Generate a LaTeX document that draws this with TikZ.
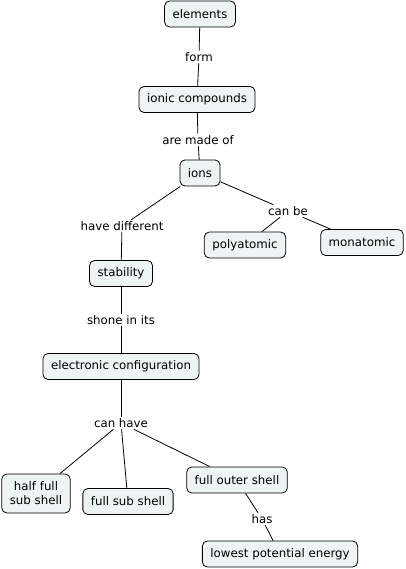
\documentclass[tikz,border=0pt]{standalone}
\usepackage{fontspec}
\setmainfont{DejaVu Sans}
\definecolor{conceptfill}{HTML}{EEF3F4}
\begin{document}
\begin{tikzpicture}[x=1bp,y=-1bp]
		\tikzstyle{every node}+=[font=\fontsize{11.8bp}{14bp}\selectfont]
		\tikzstyle{concept}=[draw=black, fill=conceptfill, rounded corners=5bp, inner xsep=8bp, inner ysep=0pt, minimum height=26bp, line width=0.8bp]
		\tikzstyle{linkword}=[inner sep=1.5bp]
		\useasboundingbox (0,0) rectangle (405,569);
		\node [concept] (elements) at (200,14) {elements};
		\node [concept] (ioniccompounds) at (197,99.5) {ionic compounds};
		\node [concept] (ions) at (200,173) {ions};
		\node [concept] (polyatomic) at (245,245) {polyatomic};
		\node [concept] (monatomic) at (362,242.5) {monatomic};
		\node [concept] (stability) at (121,273.5) {stability};
		\node [concept] (elecconfig) at (121,366.5) {electronic configuration};
		\node [concept, align=center, minimum height=39bp] (halffull) at (36,493.5) {half full\\sub shell};
		\node [concept] (fullsub) at (128,501.5) {full sub shell};
		\node [concept] (fullouter) at (237,480) {full outer shell};
		\node [concept] (lowestenergy) at (280,554) {lowest potential energy};
		\node [linkword] (form) at (199,57) {form};
		\node [linkword] (aremadeof) at (198,140) {are made of};
		\node [linkword] (havediff) at (122,226) {have different};
		\node [linkword] (canbe) at (288,211) {can be};
		\node [linkword] (shone) at (121,320) {shone in its};
		\node [linkword] (canhave) at (121,423) {can have};
		\node [linkword] (has) at (262,519) {has};
		\draw [black, line width=0.8bp] (elements) -- (form);
		\draw [black, line width=0.8bp] (form) -- (ioniccompounds);
		\draw [black, line width=0.8bp] (ioniccompounds) -- (aremadeof);
		\draw [black, line width=0.8bp] (aremadeof) -- (ions);
		\draw [black, line width=0.8bp] (ions) -- (havediff);
		\draw [black, line width=0.8bp] (havediff) -- (stability);
		\draw [black, line width=0.8bp] (ions) -- (canbe);
		\draw [black, line width=0.8bp] (canbe) -- (polyatomic);
		\draw [black, line width=0.8bp] (canbe) -- (monatomic);
		\draw [black, line width=0.8bp] (stability) -- (shone);
		\draw [black, line width=0.8bp] (shone) -- (elecconfig);
		\draw [black, line width=0.8bp] (elecconfig) -- (canhave);
		\draw [black, line width=0.8bp] (canhave) -- (halffull);
		\draw [black, line width=0.8bp] (canhave) -- (fullsub);
		\draw [black, line width=0.8bp] (canhave) -- (fullouter);
		\draw [black, line width=0.8bp] (fullouter) -- (has);
		\draw [black, line width=0.8bp] (has) -- (lowestenergy);
	\end{tikzpicture}
\end{document}
